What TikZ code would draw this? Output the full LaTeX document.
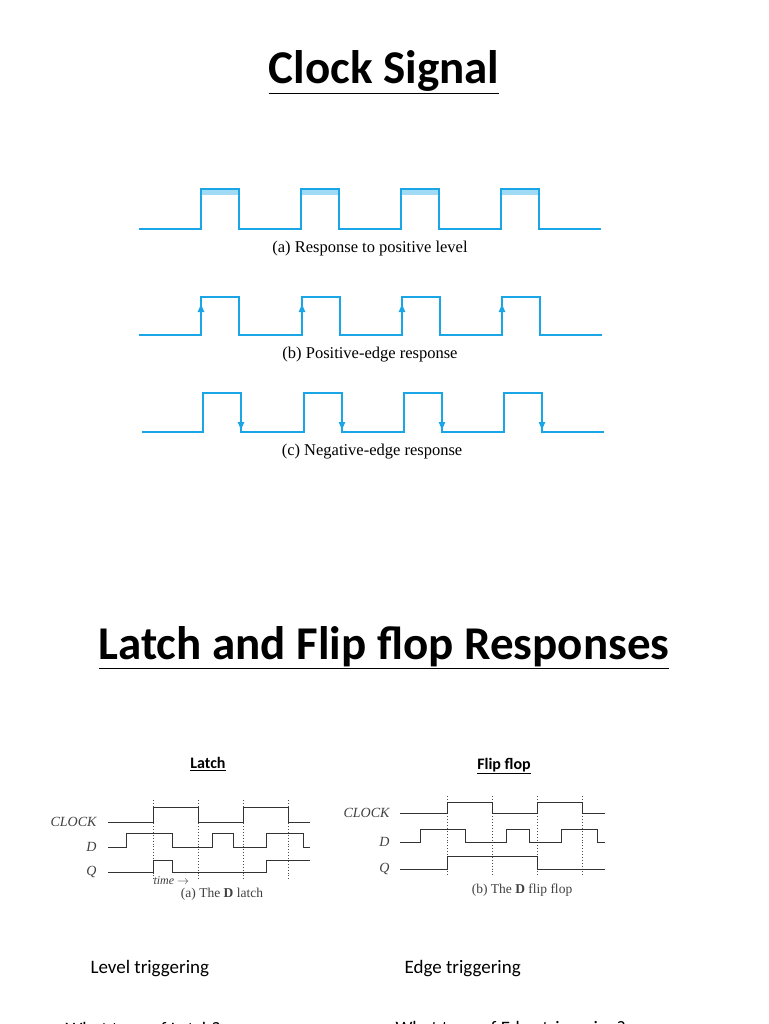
\documentclass[tikz,border=0pt]{standalone}
\usepackage{fontspec}
\setmainfont{Carlito}
\newfontfamily\bookfont{Liberation Serif}
\usetikzlibrary{positioning}
\usetikzlibrary{arrows.meta}
\definecolor{wave}{RGB}{25,165,230}
\definecolor{wavefill}{RGB}{160,218,245}
\tikzset{
  clk/.style={draw=wave,line width=1.1pt},
  tip/.style={wave,line width=1.1pt,-{Latex[length=9pt,width=7pt]}},
  sig/.style={draw=black!80,line width=0.9pt},
  marker/.style={black!70,line width=0.9pt,dotted},
  title/.style={font=\fontsize{47}{50}\selectfont\bfseries},
  head/.style={font=\fontsize{16}{18}\selectfont\bfseries},
  body/.style={font=\fontsize{19}{21}\selectfont,anchor=west},
  caption/.style={font=\bookfont\fontsize{16.5}{18}\selectfont},
  siglabel/.style={font=\bookfont\itshape\fontsize{14}{16}\selectfont,anchor=east,black!75},
}
\begin{document}
\begin{tikzpicture}[x=1pt,y=-1pt]
  \useasboundingbox (0,0) rectangle (768,1024);
  % titles
  \node[title] (clocktitle) at (384,72) {\underline{Clock Signal}};
  \node[title] (resptitle) at (384,648) {\underline{Latch and Flip flop Responses}};
  % (a) positive level
  \foreach \x in {201,301,401,501}
    \fill[wavefill] (\x,189) rectangle (\x+38,195);
  \draw[clk] (139,229) \foreach \x in {201,301,401,501}{ -- (\x,229) -- (\x,189) -- (\x+38,189) -- (\x+38,229)} -- (601,229);
  \node[caption] (capa) at (370,249) {(a) Response to positive level};
  % (b) positive edge
  \draw[clk] (139,335) \foreach \x in {201,302,402,502}{ -- (\x,335) -- (\x,297) -- (\x+38,297) -- (\x+38,335)} -- (602,335);
  \foreach \x in {201,302,402,502}
    \draw[tip] (\x,322) -- (\x,303);
  \node[caption] (capb) at (370,355) {(b) Positive-edge response};
  % (c) negative edge
  \draw[clk] (142,432) \foreach \x in {203,304,404,504}{ -- (\x,432) -- (\x,393) -- (\x+38,393) -- (\x+38,432)} -- (604,432);
  \foreach \x in {241,342,442,542}
    \draw[tip] (\x,410) -- (\x,431);
  \node[caption] (capc) at (372,452) {(c) Negative-edge response};
  % latch
  \node[head] (latchhead) at (208,764) {\underline{Latch}};
  \node[siglabel] (lclk) at (100,822) {CLOCK};
  \node[siglabel] (ld) at (100,847) {D};
  \node[siglabel] (lq) at (100,872) {Q};
  \foreach \x in {153,198,243,288}
    \draw[marker] (\x,800) -- (\x,880);
  \draw[sig] (108,822) -- (153,822) -- (153,807) -- (198,807) -- (198,822) -- (243,822) -- (243,807) -- (288,807) -- (288,822) -- (310,822);
  \draw[sig] (108,847) -- (126,847) -- (126,833) -- (172,833) -- (172,847) -- (212,847) -- (212,833) -- (233,833) -- (233,847) -- (266,847) -- (266,833) -- (303,833) -- (303,847) -- (310,847);
  \draw[sig] (108,872) -- (153,872) -- (153,860) -- (172,860) -- (172,872) -- (266,872) -- (266,860) -- (310,860);
  \node[siglabel,anchor=west,font=\bookfont\itshape\fontsize{12}{14}\selectfont] (ltime) at (150,881) {time $\rightarrow$};
  \node[caption,font=\bookfont\fontsize{13.5}{15}\selectfont,black!75] (lcap) at (222,894) {(a) The \textbf{D} latch};
  % flip flop
  \node[head] (ffhead) at (504,766) {\underline{Flip flop}};
  \node[siglabel] (fclk) at (393,813) {CLOCK};
  \node[siglabel] (fd) at (393,842) {D};
  \node[siglabel] (fq) at (393,869) {Q};
  \foreach \x in {447,492,537,582}
    \draw[marker] (\x,796) -- (\x,876);
  \draw[sig] (400,813) -- (447,813) -- (447,802) -- (492,802) -- (492,813) -- (537,813) -- (537,802) -- (582,802) -- (582,813) -- (605,813);
  \draw[sig] (400,842) -- (420,842) -- (420,829) -- (465,829) -- (465,842) -- (506,842) -- (506,829) -- (529,829) -- (529,842) -- (561,842) -- (561,829) -- (597,829) -- (597,842) -- (605,842);
  \draw[sig] (400,869) -- (447,869) -- (447,856) -- (537,856) -- (537,869) -- (605,869);
  \node[caption,font=\bookfont\fontsize{13.5}{15}\selectfont,black!75] (fcap) at (522,890) {(b) The \textbf{D} flip flop};
  % text
  \node[body] (level) at (87,969) {Level triggering};
  \node[body] (edge) at (401,969) {Edge triggering};
  \node[body] (qlatch) at (62,1030) {What type of Latch?};
  \node[body] (qedge) at (392,1030) {What type of Edge triggering?};
\end{tikzpicture}
\end{document}
